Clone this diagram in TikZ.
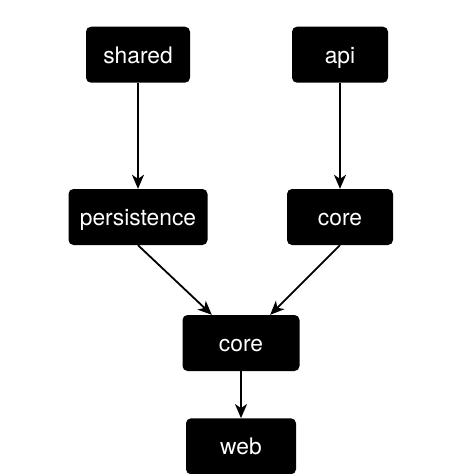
\documentclass[tikz,border=0pt]{standalone}
\usepackage{fontspec}
\setmainfont{TeX Gyre Heros}
\usetikzlibrary{arrows.meta}
\begin{document}
\begin{tikzpicture}[x=1pt, y=-1pt,
        pkg/.style={fill=black, text=white, rounded corners=5pt, inner sep=0pt,
            minimum height=56pt, text height=16.6pt, text depth=0pt,
            font=\fontsize{22.8}{26}\selectfont},
        dep/.style={-{Stealth[length=14pt, width=12pt, inset=4pt]}, line width=1.8pt}]
            \useasboundingbox (0,0) rectangle (474,474);

            \node[pkg, minimum width=104pt] (shared)      at (138.0, 54.7) {shared};
            \node[pkg, minimum width=96pt]  (api)         at (340.0, 54.7) {api};
            \node[pkg, minimum width=139pt] (persistence) at (138.0,217.0) {persistence};
            \node[pkg, minimum width=106pt] (core1)       at (340.0,217.0) {core};
            \node[pkg, minimum width=117pt] (core2)       at (241.0,343.0) {core};
            \node[pkg, minimum width=110pt] (web)         at (241.0,446.3) {web};

            \draw[dep] (shared) -- (persistence);
            \draw[dep] (api) -- (core1);
            \draw[dep] (persistence.south) -- (core2.136);
            \draw[dep] (core1.south) -- (core2.44);
            \draw[dep] (core2) -- (web);

        \end{tikzpicture}
\end{document}
